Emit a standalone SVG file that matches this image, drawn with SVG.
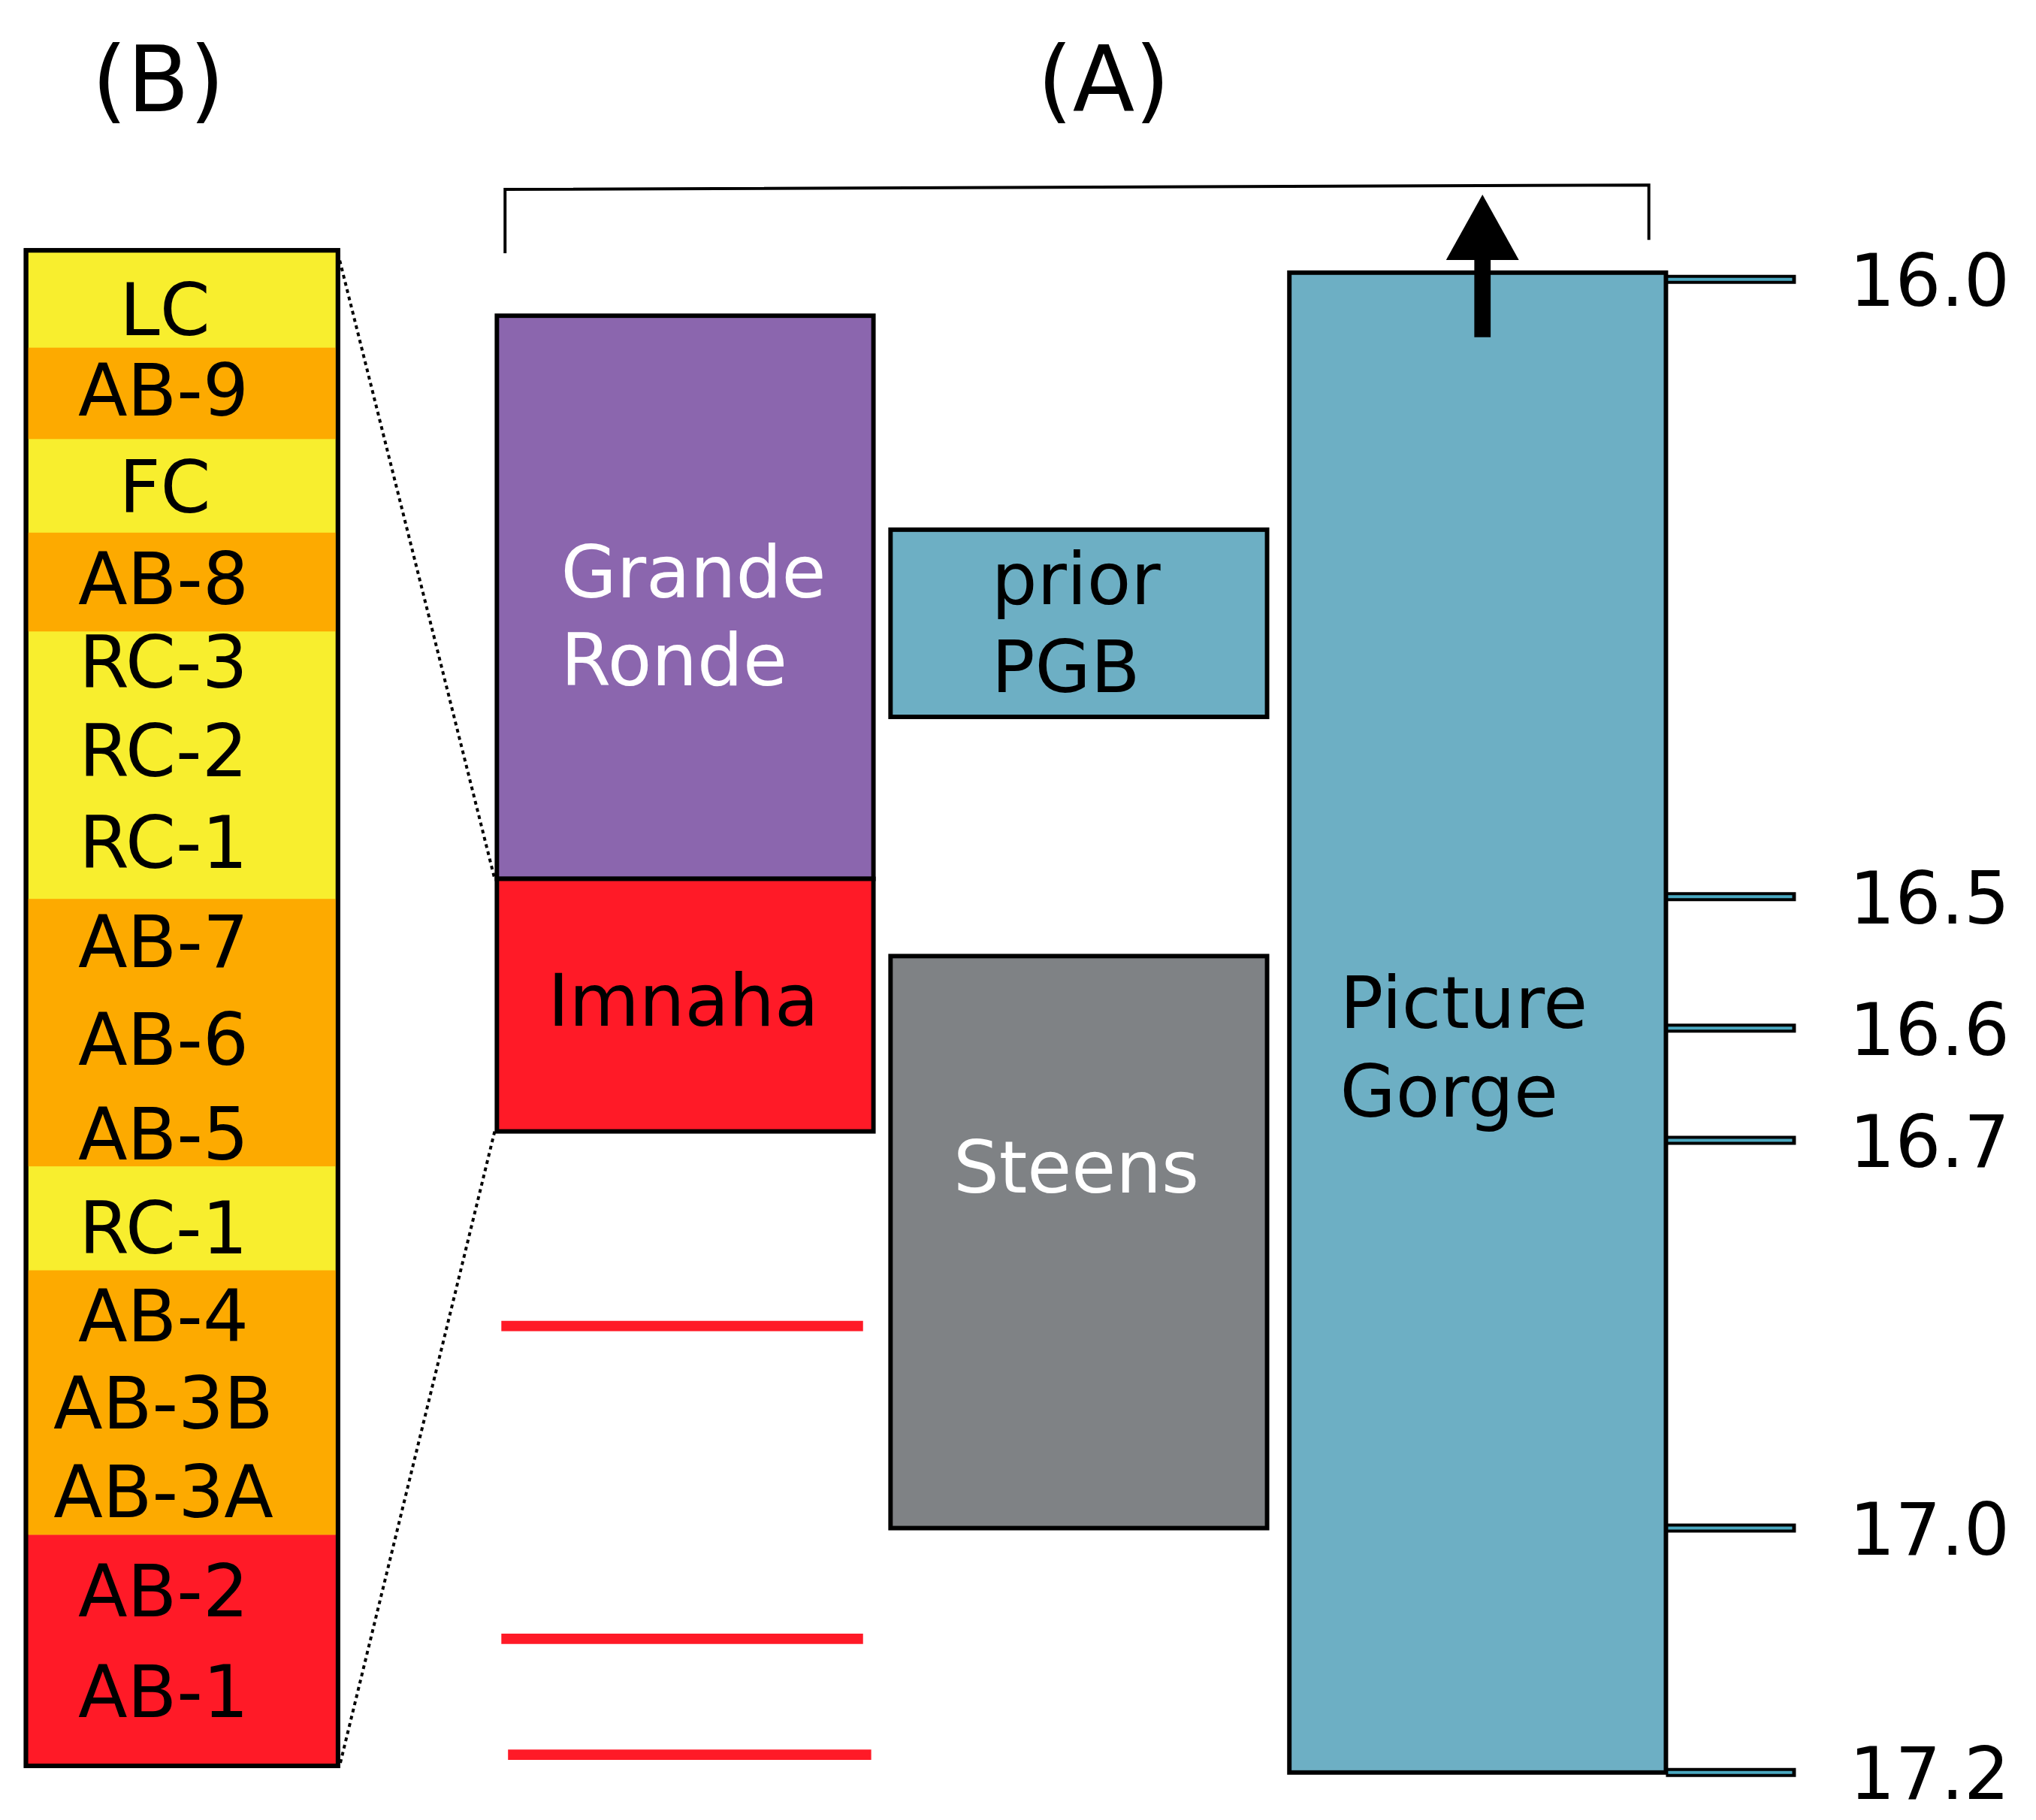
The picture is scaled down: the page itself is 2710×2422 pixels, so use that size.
<svg xmlns="http://www.w3.org/2000/svg" width="2710" height="2422" viewBox="0 0 2710 2422">
<style>
text{font-family:"DejaVu Sans","Liberation Sans",sans-serif;font-size:97px;fill:#000}
.w{fill:#fff}
.c{text-anchor:middle}
.box{stroke:#000;stroke-width:6}
.tk{stroke:#000;stroke-width:12}
.tki{stroke:#4aa8c0;stroke-width:4}
.red{stroke:#ff1a27;stroke-width:14}
</style>
<rect width="2710" height="2422" fill="#fff"/>
<g transform="scale(0.9886)">
<text x="213" y="150" class="c" style="font-size:122px">(B)</text>
<text x="1486" y="150" class="c" style="font-size:122px">(A)</text>
<g id="column">
<rect x="35" y="337" width="420" height="2040" fill="#f8ee2e" class="box"/>
<rect x="37" y="468" width="416" height="123" fill="#fdaa00"/>
<rect x="37" y="717" width="416" height="133" fill="#fdaa00"/>
<rect x="37" y="1210" width="416" height="360" fill="#fdaa00"/>
<rect x="37" y="1710" width="416" height="356" fill="#fdaa00"/>
<rect x="37" y="2066" width="416" height="309" fill="#ff1a27"/>
<rect x="35" y="337" width="420" height="2040" fill="none" class="box"/>
<text x="222" y="451" class="c">LC</text>
<text x="220" y="559" class="c">AB-9</text>
<text x="222" y="690" class="c">FC</text>
<text x="220" y="813" class="c">AB-8</text>
<text x="220" y="926" class="c">RC-3</text>
<text x="220" y="1045" class="c">RC-2</text>
<text x="220" y="1168" class="c">RC-1</text>
<text x="220" y="1302" class="c">AB-7</text>
<text x="220" y="1433" class="c">AB-6</text>
<text x="220" y="1561" class="c">AB-5</text>
<text x="220" y="1687" class="c">RC-1</text>
<text x="220" y="1806" class="c">AB-4</text>
<text x="220" y="1923" class="c">AB-3B</text>
<text x="220" y="2042" class="c">AB-3A</text>
<text x="220" y="2176" class="c">AB-2</text>
<text x="220" y="2311" class="c">AB-1</text>
</g>
<g id="grande-ronde"><rect x="669" y="425" width="507" height="758" fill="#8b66ae" class="box"/>
<text x="755" y="804" class="w">Grande</text><text x="755" y="923" class="w">Ronde</text></g>
<g id="imnaha"><rect x="669" y="1183" width="507" height="340" fill="#ff1a27" class="box"/>
<text x="920" y="1381" class="c">Imnaha</text></g>
<g id="prior-pgb"><rect x="1199" y="713" width="507" height="252" fill="#6dafc4" class="box"/>
<text x="1335" y="813">prior</text><text x="1335" y="932">PGB</text></g>
<g id="steens"><rect x="1199" y="1287" width="507" height="770" fill="#7f8285" class="box"/>
<text x="1449" y="1605" class="c w">Steens</text></g>
<g id="picture-gorge"><rect x="1736" y="367" width="507" height="2019" fill="#6dafc4" class="box"/>
<text x="1804" y="1384">Picture</text><text x="1804" y="1503">Gorge</text></g>
<g id="scale">
<g class="tk"><line x1="2243" y1="376" x2="2418" y2="376"/><line x1="2243" y1="1207" x2="2418" y2="1207"/><line x1="2243" y1="1384" x2="2418" y2="1384"/><line x1="2243" y1="1535" x2="2418" y2="1535"/><line x1="2243" y1="2057" x2="2418" y2="2057"/><line x1="2243" y1="2386" x2="2418" y2="2386"/></g>
<g class="tki"><line x1="2246" y1="376" x2="2413" y2="376"/><line x1="2246" y1="1207" x2="2413" y2="1207"/><line x1="2246" y1="1384" x2="2413" y2="1384"/><line x1="2246" y1="1535" x2="2413" y2="1535"/><line x1="2246" y1="2057" x2="2413" y2="2057"/><line x1="2246" y1="2386" x2="2413" y2="2386"/></g>
<text x="2490" y="412">16.0</text>
<text x="2490" y="1243">16.5</text>
<text x="2490" y="1420">16.6</text>
<text x="2490" y="1571">16.7</text>
<text x="2490" y="2093">17.0</text>
<text x="2490" y="2422">17.2</text>
</g>
<g id="connectors" fill="none">
<path d="M680,341 V255 L2220,249 V323" stroke="#000" stroke-width="4"/>
<line x1="1996" y1="454" x2="1996" y2="350" stroke="#000" stroke-width="22"/>
<polygon points="1996,262 1947,350 2045,350" fill="#000"/>
<line x1="455" y1="341" x2="666" y2="1183" stroke="#000" stroke-width="4" stroke-dasharray="5,5"/>
<line x1="666" y1="1523" x2="458" y2="2374" stroke="#000" stroke-width="4" stroke-dasharray="5,5"/>
<line x1="675" y1="1785" x2="1162" y2="1785" class="red"/>
<line x1="675" y1="2206" x2="1162" y2="2206" class="red"/>
<line x1="684" y1="2362" x2="1173" y2="2362" class="red"/>
</g>
</g>
</svg>
